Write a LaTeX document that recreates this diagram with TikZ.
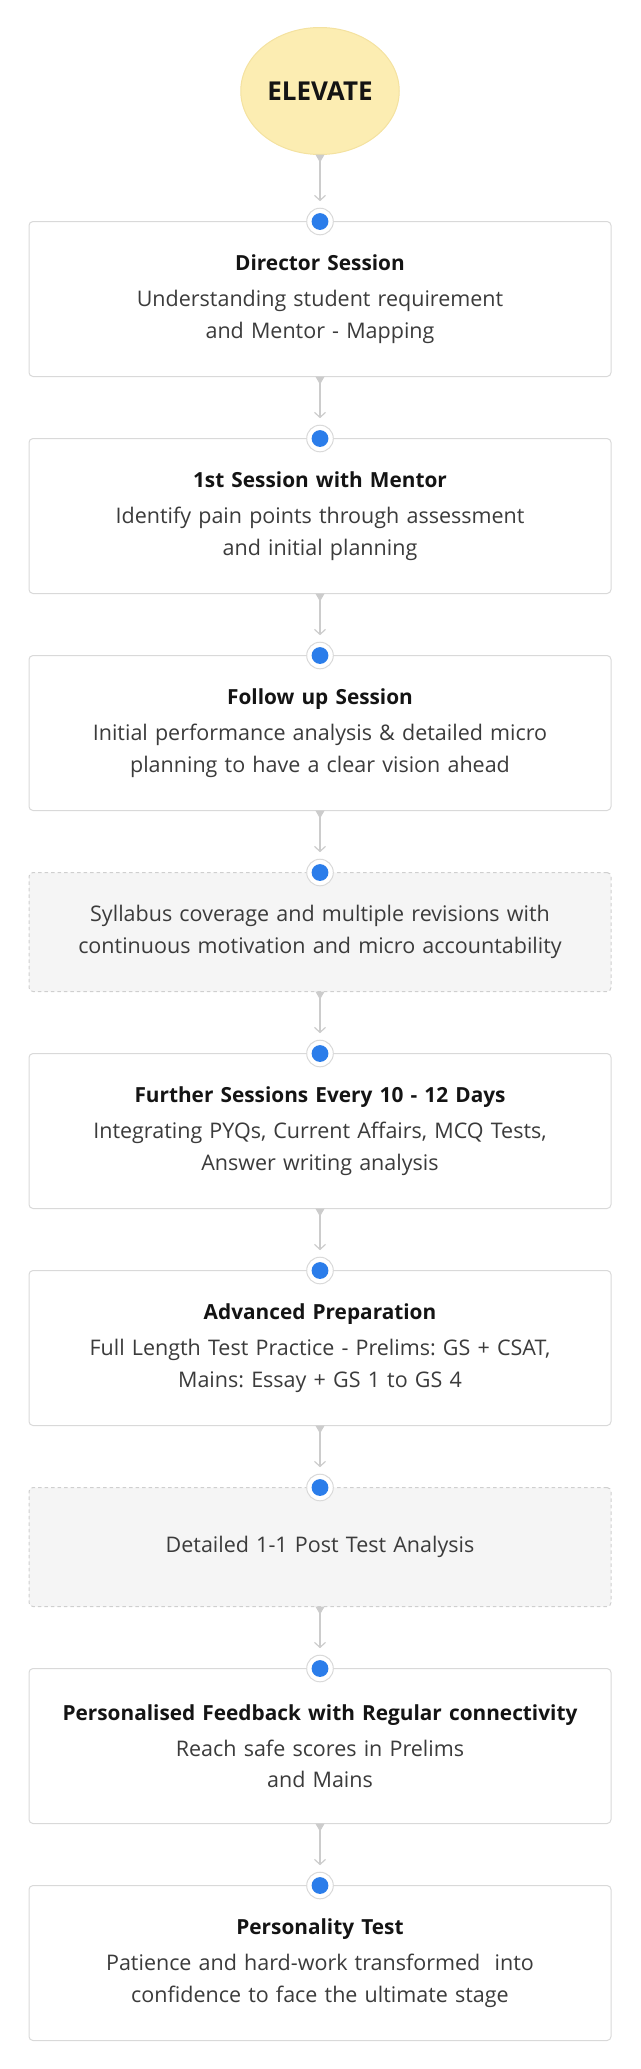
\documentclass[tikz,border=0pt]{standalone}
\usepackage{fontspec}
\setmainfont{Open Sans}
\usetikzlibrary{arrows.meta, positioning, shapes.geometric}
\frenchspacing

\definecolor{boxline}{HTML}{D9D9D9}
\definecolor{dashline}{HTML}{CFCFCF}
\definecolor{linkgray}{HTML}{CCCCCC}
\definecolor{notefill}{HTML}{F5F5F5}
\definecolor{sunfill}{HTML}{FCEDB2}
\definecolor{sunline}{HTML}{F4E2A0}
\definecolor{dotblue}{HTML}{2B7DEA}
\definecolor{ink}{HTML}{141414}
\definecolor{bodyink}{HTML}{3B3B3B}

\newcommand{\steptitle}[1]{\textcolor{ink}{\fontsize{20.8pt}{31.5pt}\selectfont\bfseries #1}\\[4.5pt]}

\begin{document}
\begin{tikzpicture}[node distance=62pt, every node/.style={outer sep=0pt},
  main node/.style={rectangle, rounded corners=4pt, draw=boxline, line width=1pt, fill=white,
    minimum width=582pt, minimum height=155pt, text width=570pt, align=center,
    text=bodyink, font=\fontsize{21.5pt}{31.5pt}\selectfont},
  note node/.style={main node, draw=dashline, dash pattern=on 3.5pt off 3pt, fill=notefill,
    minimum height=119pt},
  start node/.style={ellipse, fill=sunfill, draw=sunline, line width=1pt,
    minimum width=155pt, minimum height=127pt, text=ink,
    font=\fontsize{26pt}{30pt}\selectfont\bfseries},
  dot node/.style={circle, fill=white, draw=boxline, line width=1pt, inner sep=0pt,
    minimum size=26.6pt,
    path picture={\fill[dotblue] (path picture bounding box.center) circle (8.4pt);}},
  link/.style={color=linkgray, line width=1.2pt, shorten >=7pt,
    arrows={Triangle[reversed,length=8pt,width=9pt,fill=linkgray]-Straight Barb[length=5pt,width=11pt]}}]
  \useasboundingbox (0,0) rectangle (640pt,-2069pt);

  \node[start node] (e) at (320pt,-91pt) {ELEVATE};
  \node[main node] (s1) [below=67pt of e] {\steptitle{Director Session}
    Understanding student requirement\\ and Mentor - Mapping};
  \node[main node] (s2) [below=of s1] {\steptitle{1st Session with Mentor}
    Identify pain points through assessment\\ and initial planning};
  \node[main node] (s3) [below=of s2] {\steptitle{Follow up Session}
    Initial performance analysis \& detailed micro\\ planning to have a clear vision ahead};
  \node[note node] (s4) [below=of s3] {Syllabus coverage and multiple revisions with\\
    continuous motivation and micro accountability};
  \node[main node] (s5) [below=of s4] {\steptitle{Further Sessions Every 10 - 12 Days}
    Integrating PYQs, Current Affairs, MCQ Tests,\\ Answer writing analysis};
  \node[main node] (s6) [below=of s5] {\steptitle{Advanced Preparation}
    Full Length Test Practice - Prelims: GS + CSAT,\\ Mains: Essay + GS 1 to GS 4};
  \node[note node] (s7) [below=of s6] {Detailed 1-1 Post Test Analysis};
  \node[main node] (s8) [below=of s7] {\steptitle{Personalised Feedback with Regular connectivity}
    Reach safe scores in Prelims\\ and Mains};
  \node[main node] (s9) [below=of s8] {\steptitle{Personality Test}
    Patience and hard-work transformed\ \ into\\ confidence to face the ultimate stage};

  \foreach \i in {1,...,9}
    \node[dot node] (d\i) at (s\i.north) {};

  \path[link]
    (e) edge (d1)
    (s1) edge (d2)
    (s2) edge (d3)
    (s3) edge (d4)
    (s4) edge (d5)
    (s5) edge (d6)
    (s6) edge (d7)
    (s7) edge (d8)
    (s8) edge (d9);
\end{tikzpicture}
\end{document}
